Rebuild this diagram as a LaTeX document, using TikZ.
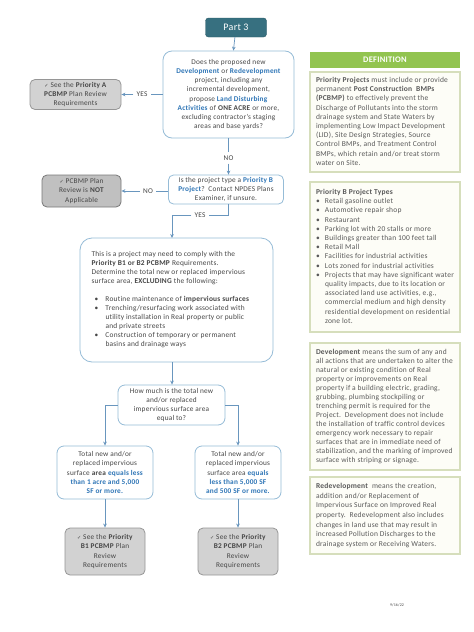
\documentclass[tikz,border=0pt]{standalone}
\usepackage{fontspec}
\setmainfont[LetterSpace=3, Ligatures=NoCommon]{Carlito}
\newfontfamily\symfont{DejaVu Sans}
\usetikzlibrary{arrows.meta}
\definecolor{tealpart}{RGB}{55,112,128}
\definecolor{flowline}{RGB}{105,150,190}
\definecolor{flowborder}{RGB}{150,188,215}
\definecolor{txt}{RGB}{70,70,70}
\definecolor{kwblue}{RGB}{46,117,182}
\definecolor{grayfill}{RGB}{210,210,210}
\definecolor{grayborder}{RGB}{150,150,150}
\definecolor{nafill}{RGB}{192,192,192}
\definecolor{naborder}{RGB}{120,120,120}
\definecolor{greenhead}{RGB}{146,196,80}
\definecolor{defborder}{RGB}{214,222,188}
\definecolor{deffill}{RGB}{253,253,247}
\definecolor{deftxt}{RGB}{89,89,89}
\newcommand{\kwb}[1]{\textcolor{kwblue}{\textbf{#1}}}
\newcommand{\chk}{{\symfont\fontsize{5}{5}\selectfont ✓}}
\newcommand{\bul}[1]{\makebox[#1][l]{\textbullet}}
\newcommand{\leftblock}[2]{\makebox[#1][l]{\begin{tabular}{@{}l@{}}#2\end{tabular}}}
\begin{document}
\begin{tikzpicture}[x=1pt,y=-1pt,
  conn/.style={draw=flowline, line width=0.7pt},
  arr/.style={conn, -{Stealth[length=4pt,width=3.6pt]}},
  part/.style={draw=tealpart!80!black, fill=tealpart, rounded corners=3pt, text=white,
    font=\fontsize{10}{12}\selectfont, minimum width=61, minimum height=19, inner sep=0pt},
  flowbox/.style={draw=flowborder, line width=0.8pt, fill=white, rounded corners=9pt,
    align=center, text=txt, font=\fontsize{7.3}{9.2}\selectfont, inner sep=0pt},
  resbox/.style={draw=grayborder, line width=0.8pt, fill=grayfill, rounded corners=5pt,
    align=center, text=txt, font=\fontsize{7.3}{9.2}\selectfont, inner sep=0pt},
  nabox/.style={resbox, draw=naborder, fill=nafill},
  lbl/.style={text=txt, font=\fontsize{7.3}{9}\selectfont, inner sep=3pt},
  defhead/.style={fill=greenhead, text=white, font=\fontsize{8.5}{10}\selectfont\bfseries,
    minimum width=150, minimum height=16, inner sep=0pt},
  defbox/.style={draw=defborder, line width=1.1pt, fill=deffill, text=deftxt,
    font=\fontsize{7.5}{9.2}\selectfont, inner sep=0pt, minimum width=150}
]
\useasboundingbox (0,0) rectangle (474,632);
\fill[white] (0,0) rectangle (474,632);

% ---------- flowchart ----------
\node[part] (p3) at (236,27.5) {Part 3};

\node[flowbox, minimum width=131, minimum height=87] (q1) at (228.5,94.5)
  {Does the proposed new\\ \kwb{Development} or \kwb{Redevelopment}\\ project, including any\\
   incremental development,\\ propose \kwb{Land Disturbing}\\ \kwb{Activities} of \textbf{ONE ACRE} or more,\\
   excluding contractor’s staging\\ areas and base yards?};

\node[resbox, minimum width=91, minimum height=30] (pa) at (75.5,94.5)
  {\chk\ See the \textbf{Priority A}\\ \textbf{PCBMP} Plan Review\\ Requirements};
\node[lbl] (yes1) at (142,94.5) {YES};

\node[lbl] (no1) at (228.5,158) {NO};

\node[flowbox, rounded corners=5pt, minimum width=115, minimum height=29] (q2) at (226,189.5)
  {Is the project type a \kwb{Priority B}\\ \kwb{Project}?\ \ Contact NPDES Plans\\ Examiner, if unsure.};

\node[nabox, minimum width=79, minimum height=32] (na) at (81.5,191)
  {\chk\ PCBMP Plan\\ Review is \textbf{NOT}\\ Applicable};
\node[lbl] (no2) at (148,191) {NO};

\node[lbl] (yes2) at (200,215) {YES};

\node[flowbox, rounded corners=12pt, minimum width=193, minimum height=124,
      font=\fontsize{7.4}{9}\selectfont] (big) at (176.5,300)
  {\leftblock{170pt}{This is a project may need to comply with the\\
   \textbf{Priority B1 or B2 PCBMP} Requirements.\\
   Determine the total new or replaced impervious\\
   surface area, \textbf{EXCLUDING} the following:\\[9pt]
   \hspace*{3pt}\bul{11pt}Routine maintenance of \textbf{impervious surfaces}\\
   \hspace*{3pt}\bul{11pt}Trenching/resurfacing work associated with\\
   \hspace*{14pt}utility installation in Real property or public\\
   \hspace*{14pt}and private streets\\
   \hspace*{3pt}\bul{11pt}Construction of temporary or permanent\\
   \hspace*{14pt}basins and drainage ways}};

\node[flowbox, rounded corners=7pt, minimum width=107, minimum height=40] (q3) at (171.5,405)
  {How much is the total new\\ and/or replaced\\ impervious surface area\\ equal to?};

\node[flowbox, rounded corners=7pt, minimum width=96, minimum height=53] (b1) at (105,472.5)
  {Total new and/or\\ replaced impervious\\ surface \textbf{area} \kwb{equals less}\\
   \kwb{than 1 acre and 5,000}\\ \kwb{SF or more.}};
\node[flowbox, rounded corners=7pt, minimum width=86, minimum height=53] (b2) at (238,472.5)
  {Total new and/or\\ replaced impervious\\ surface area \kwb{equals}\\
   \kwb{less than 5,000 SF}\\ \kwb{and 500 SF or more.}};

\node[resbox, minimum width=80, minimum height=47] (r1) at (105,551.5)
  {\chk\ See the \textbf{Priority}\\ \textbf{B1 PCBMP} Plan\\ Review\\ Requirements};
\node[resbox, minimum width=80, minimum height=47] (r2) at (238,551.5)
  {\chk\ See the \textbf{Priority}\\ \textbf{B2 PCBMP} Plan\\ Review\\ Requirements};

\coordinate (q2b) at (228.5,204);
\coordinate (bigtop) at (172,238);
\coordinate (bigbot) at (172,362);

% connectors
\draw[arr] (p3) -- (q1);
\draw[conn] (q1.west |- yes1) -- (yes1.east);
\draw[arr] (yes1.west) -- (pa.east);
\draw[conn] (q1.south) -- (no1.north);
\draw[arr] (no1.south) -- (no1.south |- q2.north);
\draw[conn] (q2.west |- no2) -- (no2.east);
\draw[arr] (no2.west) -- (na.east |- no2);
\draw[conn] (q2b) |- (yes2.east);
\draw[arr] (yes2.west) -| (bigtop);
\draw[arr] (bigbot) -- (bigbot |- q3.north);
\draw[arr] (q3.west) -| (b1.north);
\draw[arr] (q3.east) -| (b2.north);
\draw[arr] (b1) -- (r1);
\draw[arr] (b2) -- (r2);

% ---------- definitions ----------
\node[defhead] (dh) at (385,60) {DEFINITION};

\node[defbox, minimum height=100] (d1) at (385,122)
  {\leftblock{138pt}{\textbf{Priority Projects} must include or provide\\
   permanent \textbf{Post Construction\ \ BMPs}\\
   \textbf{(PCBMP)} to effectively prevent the\\
   Discharge of Pollutants into the storm\\
   drainage system and State Waters by\\
   implementing Low Impact Development\\
   (LID), Site Design Strategies, Source\\
   Control BMPs, and Treatment Control\\
   BMPs, which retain and/or treat storm\\
   water on Site.}};

\node[defbox, minimum height=150] (d2) at (385,257)
  {\leftblock{138pt}{\textbf{Priority B Project Types}\\
   \bul{9pt}Retail gasoline outlet\\
   \bul{9pt}Automotive repair shop\\
   \bul{9pt}Restaurant\\
   \bul{9pt}Parking lot with 20 stalls or more\\
   \bul{9pt}Buildings greater than 100 feet tall\\
   \bul{9pt}Retail Mall\\
   \bul{9pt}Facilities for industrial activities\\
   \bul{9pt}Lots zoned for industrial activities\\
   \bul{9pt}Projects that may have significant water\\
   \hspace*{9pt}quality impacts, due to its location or\\
   \hspace*{9pt}associated land use activities, e.g.,\\
   \hspace*{9pt}commercial medium and high density\\
   \hspace*{9pt}residential development on residential\\
   \hspace*{9pt}zone lot.}};

\node[defbox, minimum height=127, font=\fontsize{7.5}{9}\selectfont] (d3) at (385,406.5)
  {\leftblock{138pt}{\textbf{Development} means the sum of any and\\
   all actions that are undertaken to alter the\\
   natural or existing condition of Real\\
   property or improvements on Real\\
   property if a building electric, grading,\\
   grubbing, plumbing stockpiling or\\
   trenching permit is required for the\\
   Project.\ \ Development does not include\\
   the installation of traffic control devices\\
   emergency work necessary to repair\\
   surfaces that are in immediate need of\\
   stabilization, and the marking of improved\\
   surface with striping or signage.}};

\node[defbox, minimum height=77, font=\fontsize{7.5}{9.6}\selectfont] (d4) at (385,515.5)
  {\leftblock{138pt}{\textbf{Redevelopment}\ \ means the creation,\\
   addition and/or Replacement of\\
   Impervious Surface on Improved Real\\
   property.\ \ Redevelopment also includes\\
   changes in land use that may result in\\
   increased Pollution Discharges to the\\
   drainage system or Receiving Waters.}};

\node[text=txt, font=\fontsize{4}{5}\selectfont, inner sep=0pt] (date) at (397,605) {9/16/22};
\end{tikzpicture}
\end{document}
